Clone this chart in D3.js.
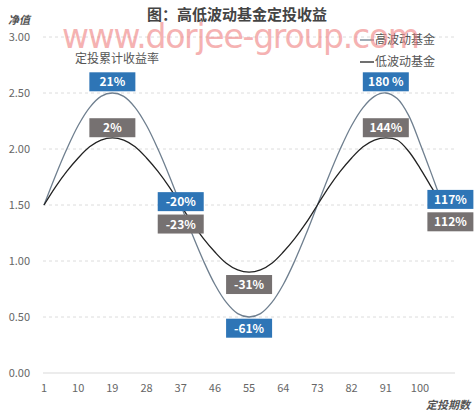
<!DOCTYPE html>
<html><head><meta charset="utf-8">
<script src="https://cdn.jsdelivr.net/npm/d3@7"></script>
<style>body{margin:0;background:#fff;font-family:"Noto Sans CJK SC","Noto Sans",sans-serif}</style>
</head><body>
<script>
// data
const periods = [1,4,7,10,13,16,19,22,25,28,31,34,37,40,43,46,49,52,55,58,61,64,67,70,73,76,79,82,85,88,91,94,97,100,103,106];
const highVol = [1.5,1.76,2.0,2.21,2.37,2.47,2.5,2.47,2.37,2.21,2.0,1.76,1.5,1.24,1.0,0.79,0.63,0.53,0.5,0.53,0.63,0.79,1.0,1.24,1.5,1.76,2.0,2.21,2.37,2.47,2.5,2.45,2.3,2.05,1.78,1.5];
const lowVol = [1.5,1.66,1.8,1.92,2.02,2.08,2.1,2.08,2.02,1.92,1.8,1.66,1.5,1.34,1.2,1.08,0.98,0.92,0.9,0.92,0.98,1.08,1.2,1.34,1.5,1.66,1.8,1.92,2.02,2.08,2.1,2.08,1.98,1.83,1.66,1.5];
const xTicks = [1,10,19,28,37,46,55,64,73,82,91,100];
const yTicks = [0,0.5,1,1.5,2,2.5,3];
const highLabels = [{x:19,y:2.6,t:"21%"},{x:37,y:1.53,t:"-20%"},{x:55,y:0.4,t:"-61%"},{x:91,y:2.6,t:"180 %"},{x:108,y:1.55,t:"117%"}];
const lowLabels = [{x:19,y:2.19,t:"2%"},{x:37,y:1.33,t:"-23%"},{x:55,y:0.79,t:"-31%"},{x:91,y:2.19,t:"144%"},{x:108,y:1.35,t:"112%"}];

const W = 474, H = 418;
const svg = d3.select("body").append("svg").attr("width", W).attr("height", H);
const x = d3.scaleLinear().domain([1,100]).range([44,420]);
const y = d3.scaleLinear().domain([0,3]).range([373,37]);

// grid
svg.selectAll(".grid").data(yTicks).enter().append("line")
  .attr("x1",43).attr("x2",455).attr("y1",d=>y(d)).attr("y2",d=>y(d))
  .attr("stroke",d=>d===0?"#d9d9d9":"#dcdcdc").attr("stroke-dasharray",d=>d===0?null:"3,3");
svg.selectAll(".yl").data(yTicks).enter().append("text")
  .attr("x",30).attr("y",d=>y(d)+4).attr("text-anchor","end")
  .attr("font-size",11).attr("fill","#666").text(d=>d.toFixed(2));
svg.selectAll(".xl").data(xTicks).enter().append("text")
  .attr("x",d=>x(d)).attr("y",392).attr("text-anchor","middle")
  .attr("font-size",11).attr("fill","#666").text(d=>d);

const line = d3.line().x((d,i)=>x(periods[i])).y(d=>y(d)).curve(d3.curveCatmullRom);
svg.append("path").datum(highVol).attr("d",line).attr("fill","none").attr("stroke","#6f7f8f").attr("stroke-width",1.3);
svg.append("path").datum(lowVol).attr("d",line).attr("fill","none").attr("stroke","#222").attr("stroke-width",1.3);

function boxes(data, color){
  const g = svg.selectAll(null).data(data).enter().append("g")
    .attr("transform",d=>`translate(${x(d.x)},${y(d.y)})`);
  g.append("rect").attr("x",-23).attr("y",-9.5).attr("width",46).attr("height",19).attr("fill",color);
  g.append("text").attr("y",4.5).attr("text-anchor","middle").attr("font-size",12)
    .attr("font-weight","bold").attr("fill","#fff").text(d=>d.t);
}
boxes(highLabels,"#2e75b6");
boxes(lowLabels,"#767171");

// texts
svg.append("text").attr("x",237).attr("y",20).attr("text-anchor","middle").attr("font-size",15)
  .attr("font-weight","bold").attr("fill","#444").text("图：高低波动基金定投收益");
svg.append("text").attr("x",8).attr("y",24).attr("font-size",11).attr("font-weight","bold")
  .attr("font-style","italic").attr("fill","#555").text("净值");
svg.append("text").attr("x",75).attr("y",63).attr("font-size",12).attr("fill","#555").text("定投累计收益率");
svg.append("text").attr("x",470).attr("y",409).attr("text-anchor","end").attr("font-size",11)
  .attr("font-weight","bold").attr("font-style","italic").attr("fill","#555").text("定投期数");
const leg = [{t:"高波动基金",c:"#6f7f8f",y:44},{t:"低波动基金",c:"#222",y:66}];
leg.forEach(l=>{
  svg.append("line").attr("x1",360).attr("x2",374).attr("y1",l.y-4).attr("y2",l.y-4).attr("stroke",l.c).attr("stroke-width",1.3);
  svg.append("text").attr("x",375).attr("y",l.y).attr("font-size",12).attr("fill","#555").text(l.t);
});
// watermark
svg.append("text").attr("x",62).attr("y",48).attr("font-size",33).attr("font-family","DejaVu Sans")
  .attr("fill","#f08080").attr("opacity",0.6).attr("textLength",358).text("www.dorjee-group.com");
</script>
</body></html>
